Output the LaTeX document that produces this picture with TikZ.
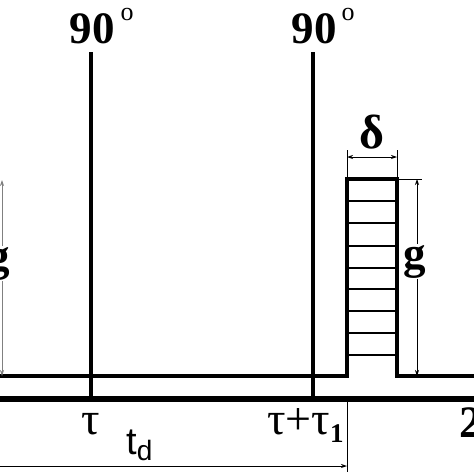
\documentclass[tikz,border=0pt]{standalone}
\usepackage{fontspec}
\setmainfont{Liberation Serif}
\newfontfamily\sansfnt{Liberation Sans}
\usetikzlibrary{arrows.meta}
\begin{document}
\begin{tikzpicture}[x=1pt,y=-1pt,
  pulse/.style={line width=4.5pt},
  thickbase/.style={line width=6pt},
  thinbase/.style={line width=3.5pt},
  hatch/.style={line width=2.2pt},
  dimline/.style={line width=0.8pt},
  dimarrow/.style={line width=0.8pt,{Stealth[length=6pt,width=4pt]}-{Stealth[length=6pt,width=4pt]}},
  bigbold/.style={inner sep=0pt,font=\fontsize{45}{48}\selectfont\bfseries},
  greek/.style={inner sep=0pt,font=\fontsize{46}{50}\selectfont},
  degree/.style={inner sep=0pt,font=\fontsize{26}{28}\selectfont}]
\useasboundingbox (0,0) rectangle (474,474);
\clip (0,0) rectangle (474,474);
% coordinates
\coordinate (p1t) at (91,52);
\coordinate (p1b) at (91,399);
\coordinate (p2t) at (313,52);
\coordinate (p2b) at (313,399);
\coordinate (bl) at (-5,376);
\coordinate (rl) at (347,376);
\coordinate (rtl) at (347,179);
\coordinate (rtr) at (397,179);
\coordinate (rr) at (397,376);
\coordinate (br) at (480,376);
\coordinate (tl) at (-5,399);
\coordinate (tr) at (480,399);
% thick time axis
\draw[thickbase] (tl) -- (tr);
% thin baseline with echo block
\draw[thinbase,line join=miter] (bl) -- (rl) -- (rtl) -- (rtr) -- (rr) -- (br);
% hatch lines
\foreach \y in {201,223,246,268,289,311,333,355}
  \draw[hatch] (347,\y) -- (397,\y);
% pulses
\draw[pulse] (p1t) -- (p1b);
\draw[pulse] (p2t) -- (p2b);
% labels of pulses
\node[bigbold,anchor=base] (n90a) at (92,43) {90};
\node[degree,anchor=base] (dga) at (127,20) {o};
\node[bigbold,anchor=base] (n90b) at (314,43) {90};
\node[degree,anchor=base] (dgb) at (348,20) {o};
% delta dimension
\coordinate (dl) at (347,150);
\coordinate (dr) at (397,150);
\draw[dimline] (dl) -- (rtl);
\draw[dimline] (dr) -- (rtr);
\coordinate (dal) at (347,157);
\coordinate (dar) at (397,157);
\draw[dimarrow] (dal) -- (dar);
\node[inner sep=0pt,anchor=base,font=\fontsize{48}{52}\selectfont\bfseries] (delta) at (372,148) {δ};
% right g dimension
\coordinate (ge) at (422,179);
\draw[dimline] (rtr) -- (ge);
\coordinate (gt) at (417,179);
\coordinate (gb) at (417,376);
\draw[dimarrow] (gt) -- (gb);
\node[bigbold,anchor=base,fill=white,inner sep=1pt] (gr) at (415,268) {g};
% left g dimension
\coordinate (lgt) at (2,180);
\coordinate (lgb) at (2,376);
\draw[dimarrow,gray] (lgt) -- (lgb);
\node[bigbold,anchor=base,fill=white,inner sep=1pt] (gl) at (-1,270) {g};
% axis labels
\node[greek,anchor=base] (tau) at (91,434) {τ};
\node[greek,anchor=base west] (tautau) at (267,434) {τ+τ\raisebox{-8pt}{\fontsize{27}{30}\selectfont\bfseries 1}};
\node[bigbold,anchor=base west] (two) at (459,437) {2};
% t_d dimension
\coordinate (tdv1) at (347,399);
\coordinate (tdv2) at (347,472);
\draw[dimline] (tdv1) -- (tdv2);
\coordinate (tda) at (0,466);
\coordinate (tdb) at (347,466);
\draw[dimline,-{Stealth[length=6pt,width=4pt]}] (tda) -- (tdb);
\node[inner sep=0pt,anchor=base west,font=\fontsize{38}{40}\selectfont\sansfnt] (td) at (126,454) {t\raisebox{-6pt}{\fontsize{28}{30}\selectfont d}};
\end{tikzpicture}
\end{document}
